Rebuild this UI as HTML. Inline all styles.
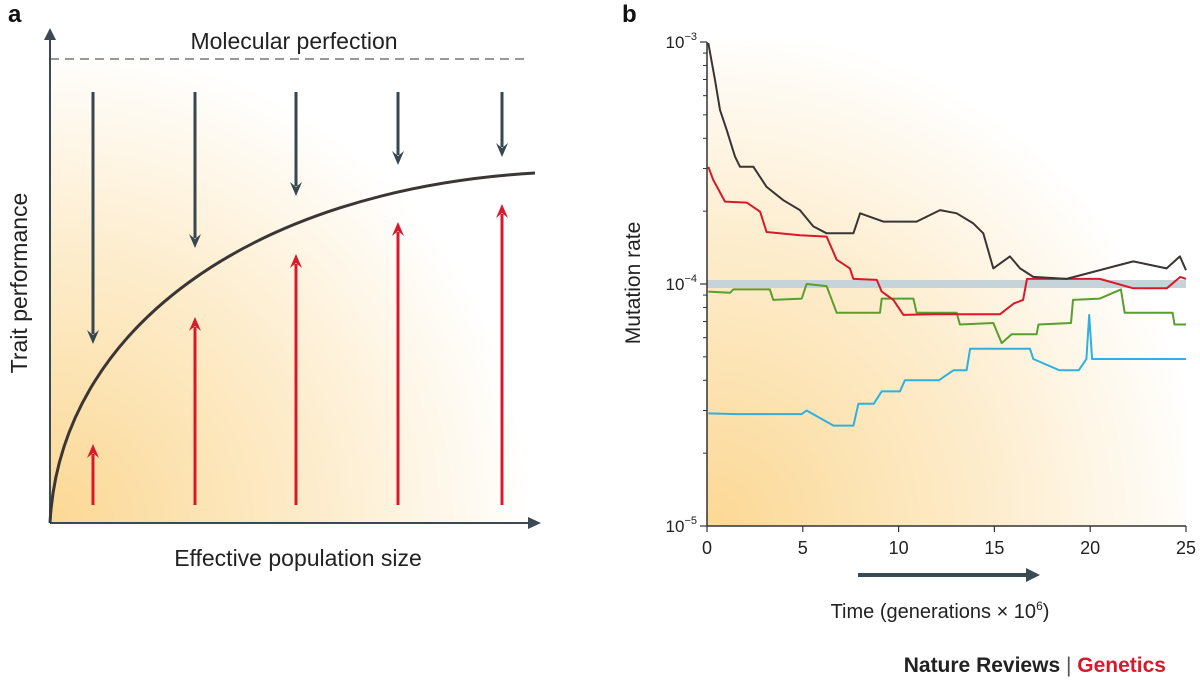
<!DOCTYPE html>
<html><head><meta charset="utf-8">
<style>
html,body{margin:0;padding:0;background:#fff;}
svg{display:block;font-family:"Liberation Sans",sans-serif;}
</style></head>
<body>
<svg id="fig" width="1200" height="682" viewBox="0 0 1200 682">
<defs>
<radialGradient id="ga" cx="50" cy="523" r="480" gradientUnits="userSpaceOnUse">
<stop offset="0" stop-color="#fcd894"/><stop offset="0.55" stop-color="#fdeccb"/><stop offset="1" stop-color="#ffffff"/>
</radialGradient>
<radialGradient id="gb" cx="707" cy="526" r="500" gradientUnits="userSpaceOnUse">
<stop offset="0" stop-color="#fcd894"/><stop offset="0.55" stop-color="#fdeccb"/><stop offset="1" stop-color="#ffffff"/>
</radialGradient>
</defs>

<text x="8" y="22" font-size="24" font-weight="bold" fill="#111">a</text>
<text x="622" y="22" font-size="24" font-weight="bold" fill="#111">b</text>

<g id="pa">
<rect x="50" y="60" width="485" height="463" fill="url(#ga)"/>
<line x1="50" y1="59" x2="530" y2="59" stroke="#333" stroke-width="1" stroke-dasharray="9,6"/>
<text x="294" y="49" font-size="23" text-anchor="middle" fill="#222">Molecular perfection</text>
<line x1="50" y1="523" x2="50" y2="36" stroke="#3a4a55" stroke-width="2"/>
<path d="M44,40 L50,28 L56,40Z" fill="#3a4a55"/>
<line x1="50" y1="523" x2="532" y2="523" stroke="#3a4a55" stroke-width="2"/>
<path d="M528,517 L541,523 L528,529Z" fill="#3a4a55"/>
<text transform="translate(27,283) rotate(-90)" font-size="23" text-anchor="middle" fill="#222">Trait performance</text>
<text x="298" y="566" font-size="23" text-anchor="middle" fill="#222">Effective population size</text>
</g>

<g id="pb">
<rect x="707" y="42" width="479" height="484" fill="url(#gb)"/>
</g>
<text x="940" y="618" font-size="20" text-anchor="middle" fill="#222">Time (generations × 10<tspan font-size="12" dy="-8">6</tspan><tspan dy="8">)</tspan></text>
<line x1="858" y1="575" x2="1030" y2="575" stroke="#3a4a55" stroke-width="4"/>
<path d="M1026,568 L1040,575 L1026,582Z" fill="#3a4a55"/>
<text x="1166" y="672" font-size="21" text-anchor="end" font-weight="bold" fill="#222">Nature Reviews <tspan font-weight="normal" fill="#555">|</tspan> <tspan fill="#d7192b">Genetics</tspan></text>
</svg>
<script>
// Panel a data
const arrowX = [93, 195, 296, 398, 502];
const downArrowEnd = [344, 248, 196, 165, 157];
const upArrowTop = [444, 317, 254, 222, 204];

// Panel b data (time in 10^6 generations, mutation rate in units of 1e-4)
const blackT = [0.07,0.42,0.68,1.03,1.46,1.72,2.42,3.11,3.98,4.85,5.55,6.24,7.64,7.99,9.2,10.94,12.16,13.03,13.9,14.42,14.94,15.81,16.34,17.03,18.77,21.2,22.25,23.99,24.68,25];
const blackV = [9.9,6.97,5.24,4.33,3.36,3.05,3.05,2.52,2.22,2.02,1.73,1.62,1.62,1.96,1.81,1.81,2.02,1.96,1.78,1.62,1.16,1.30,1.16,1.07,1.05,1.18,1.24,1.16,1.30,1.14];
const redT = [0.07,0.33,0.94,2.07,2.77,3.11,4.85,6.24,6.77,7.46,7.64,8.86,9.12,9.73,10.25,11.82,15.3,16.0,16.5,16.7,20.5,22.25,24.0,24.7,25];
const redV = [3.05,2.69,2.19,2.17,1.99,1.64,1.59,1.57,1.26,1.16,1.05,1.04,0.93,0.86,0.745,0.75,0.75,0.83,0.86,1.05,1.05,0.96,0.96,1.07,1.05];
const greenT = [0.07,1.2,1.38,3.28,3.46,4.94,5.2,6.24,6.77,9.03,9.12,10.77,10.94,13.03,13.2,14.94,15.38,15.9,17.2,17.3,19.0,19.1,20.5,21.6,21.8,24.3,24.4,25];
const greenV = [0.93,0.92,0.95,0.95,0.86,0.87,1.0,0.98,0.76,0.76,0.87,0.87,0.76,0.76,0.68,0.69,0.57,0.62,0.62,0.68,0.69,0.86,0.87,0.95,0.76,0.76,0.68,0.68];
const blueT = [0.07,1.55,4.94,5.2,6.6,7.64,7.9,8.7,9.12,10.07,10.33,11.3,12.1,12.86,13.55,13.73,16.86,17.03,18.4,19.4,19.8,19.95,20.1,25];
const blueV = [0.292,0.29,0.29,0.30,0.26,0.26,0.32,0.32,0.36,0.36,0.40,0.40,0.40,0.44,0.44,0.54,0.54,0.49,0.44,0.44,0.49,0.745,0.49,0.49];
const xTicks = [0,5,10,15,20,25];
const yDecades = [-5,-4,-3];

const NS = "http://www.w3.org/2000/svg";
const svg = document.getElementById('fig');
const pa = document.getElementById('pa');
const pb = document.getElementById('pb');
function mk(tag, attrs, parent){const e=document.createElementNS(NS,tag);for(const k in attrs)e.setAttribute(k,attrs[k]);(parent||svg).appendChild(e);return e;}

// panel a curve
const cv=mk('path',{d:'M50,523 C60,330 250,190 535,173',fill:'none',stroke:'#3b3535','stroke-width':3},pa);


arrowX.forEach((x,i)=>{
  const a=mk('line',{x1:x,y1:92,x2:x,y2:downArrowEnd[i]-10,stroke:'#36474f','stroke-width':3},pa);
  
  
  const h=mk('path',{d:`M${x-6},${downArrowEnd[i]-14} L${x},${downArrowEnd[i]} L${x+6},${downArrowEnd[i]-14} L${x},${downArrowEnd[i]-9}Z`,fill:'#36474f'},pa);
  
  
  const u=mk('line',{x1:x,y1:505,x2:x,y2:upArrowTop[i]+10,stroke:'#d7192b','stroke-width':3},pa);
  
  
  const uh=mk('path',{d:`M${x-6},${upArrowTop[i]+14} L${x},${upArrowTop[i]} L${x+6},${upArrowTop[i]+14} L${x},${upArrowTop[i]+9}Z`,fill:'#d7192b'},pa);
  
  
});

// panel b axes
const X0=707,X1=1186,Ytop=42,Ybot=526;
const sx=t=>X0+(X1-X0)*t/25;
const sy=v=>{const lg=Math.log10(v*1e-4);return Ybot-(lg+5)/2*(Ybot-Ytop);};
const ref=mk('line',{x1:X0,y1:sy(1),x2:X1,y2:sy(1),stroke:'#c6d3d8','stroke-width':8},pb);


function series(T,V,color,name){
  let p='';T.forEach((t,i)=>{p+=(i?'L':'M')+sx(t).toFixed(1)+','+sy(V[i]).toFixed(1);});
  const e=mk('path',{d:p,fill:'none',stroke:color,'stroke-width':2,'stroke-linejoin':'round'},pb);
  
  
}
series(blueT,blueV,'#2eb0e0','series-blue');
series(greenT,greenV,'#5a9e2f','series-green');
series(redT,redV,'#d7192b','series-red');
series(blackT,blackV,'#3a3434','series-black');
const ya=mk('line',{x1:X0,y1:Ytop,x2:X0,y2:Ybot,stroke:'#333','stroke-width':1.5},pb);


const xa=mk('line',{x1:X0,y1:Ybot,x2:X1,y2:Ybot,stroke:'#333','stroke-width':1.5},pb);


yDecades.forEach(dec=>{
  const y=sy(Math.pow(10,dec+4));
  const tk=mk('line',{x1:X0-7,y1:y,x2:X0,y2:y,stroke:'#333','stroke-width':1.2},pb);
  
  
  const lb=mk('text',{x:X0-10,y:y+6,'font-size':17,'text-anchor':'end',fill:'#222'},pb);
  
  
  lb.innerHTML='10<tspan font-size="11" dy="-8">'+(dec<0?'\u2212':'')+Math.abs(dec)+'</tspan>';
  if(dec<-3){for(let m=2;m<=9;m++){const yy=sy(m*Math.pow(10,dec+4));
    const mt=mk('line',{x1:X0-4,y1:yy,x2:X0,y2:yy,stroke:'#333','stroke-width':1},pb);
    
    }}
});
xTicks.forEach(t=>{
  const x=sx(t);
  const tk=mk('line',{x1:x,y1:Ybot,x2:x,y2:Ybot+6,stroke:'#333','stroke-width':1.2},pb);
  
  
  const lb=mk('text',{x:x,y:Ybot+28,'font-size':18,'text-anchor':'middle',fill:'#222'},pb);
  
  
  lb.textContent=t;
});
const yt=mk('text',{transform:'translate(640,283) rotate(-90)','font-size':21,'text-anchor':'middle',fill:'#222'},pb);


yt.textContent='Mutation rate';
</script>
</body></html>
